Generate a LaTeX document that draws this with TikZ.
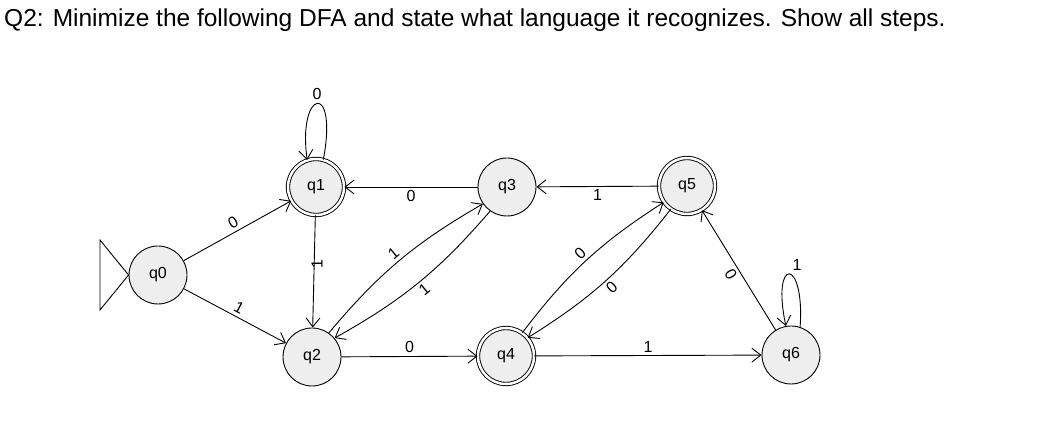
\documentclass[tikz,border=0pt]{standalone}
\usepackage{fontspec}
\setmainfont{Liberation Sans}
\usetikzlibrary{arrows.meta}
\definecolor{stfill}{HTML}{EEEEEE}
\begin{document}
\begin{tikzpicture}[x=1pt,y=-1pt,
  st/.style={circle,draw,line width=0.9pt,fill=stfill,minimum size=58pt,inner sep=0pt,font=\fontsize{16}{18}\selectfont},
  acc/.style={st,double,double distance=2.5pt},
  tr/.style={draw,-{Straight Barb[length=9pt,width=14pt]},line width=0.9pt},
  lb/.style={font=\fontsize{16}{18}\selectfont,inner sep=3pt}]
\useasboundingbox (0,0) rectangle (1053,427);
\node[anchor=west,font=\fontsize{24.5}{28}\selectfont,inner sep=0pt] (title) at (4,20) {Q2: Minimize the following DFA and state what language it recognizes. Show all steps.};
\node[st] (q0) at (158,275) {q0};
\node[acc,minimum size=56pt] (q1) at (316,187) {q1};
\node[st] (q2) at (312,357) {q2};
\node[st] (q3) at (507,187) {q3};
\node[acc,minimum size=56pt] (q4) at (506,356) {q4};
\node[acc,minimum size=56pt] (q5) at (687,186) {q5};
\node[st] (q6) at (791,355) {q6};
\coordinate (i1) at (100,240); \coordinate (i2) at (100,310);
\draw[line width=0.9pt] (i1) -- (q0.west) -- (i2) -- cycle;
\path[tr] (q0) -- node[lb,above,sloped] {0} (q1);
\path[tr] (q0) -- node[lb,above,sloped] {1} (q2);
\path[tr] (q1.75) .. controls +(15,-80) and +(-10,-70) .. node[lb,above] {0} (q1.108);
\path[tr] (q3) -- node[lb,below] {0} (q1);
\path[tr] (q1) -- node[lb,right=3pt,rotate=90] {1} (q2);
\path[tr] (q2.55) to[bend left=10] node[lb,above,sloped] {1} (q3.215);
\path[tr] (q3.235) to[bend left=10] node[lb,below,sloped] {1} (q2.40);
\path[tr] (q2) -- node[lb,above] {0} (q4);
\path[tr] (q5) -- node[lb,below] {1} (q3);
\path[tr] (q4.55) to[bend left=10] node[lb,above,sloped] {0} (q5.215);
\path[tr] (q5.235) to[bend left=10] node[lb,below,sloped] {0} (q4.40);
\path[tr] (q4) -- node[lb,above] {1} (q6);
\path[tr] (q6) -- node[lb,below,sloped] {0} (q5);
\path[tr] (q6.72) .. controls +(5,-70) and +(-15,-70) .. node[lb,above right] {1} (q6.100);
\end{tikzpicture}
\end{document}
